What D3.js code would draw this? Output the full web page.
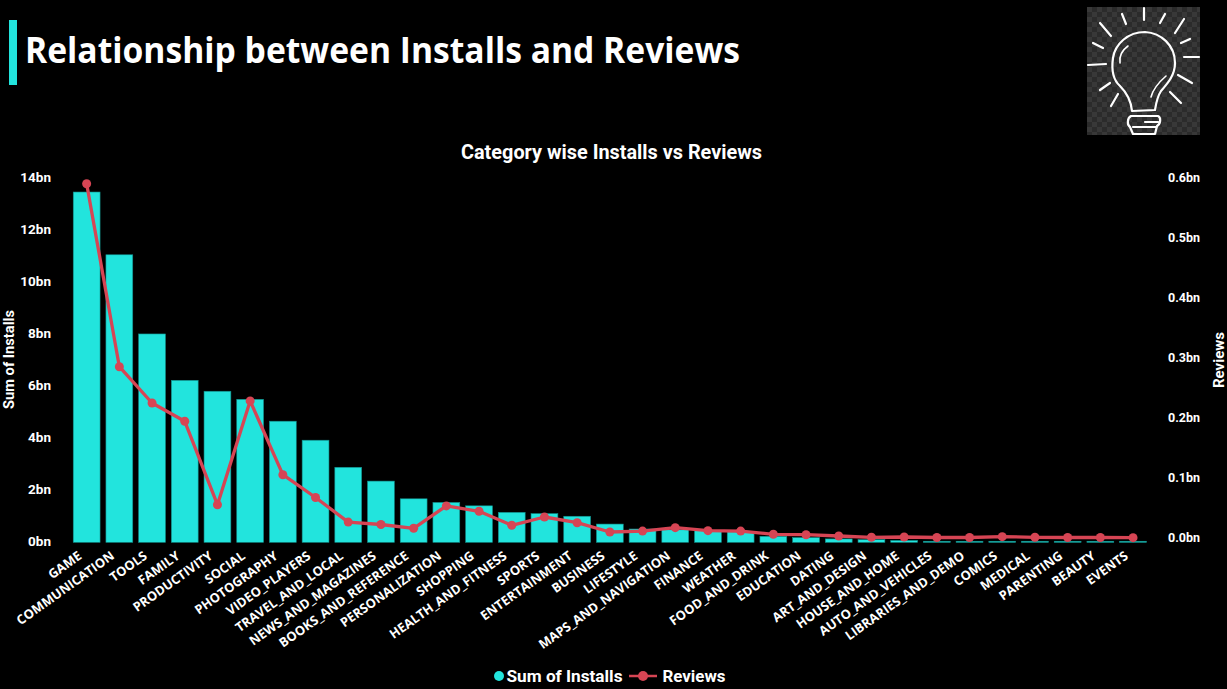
<!DOCTYPE html>
<html><head><meta charset="utf-8">
<script src="https://cdn.jsdelivr.net/npm/d3@7"></script>
<style>html,body{margin:0;background:#000;overflow:hidden}svg{display:block}text{fill:#fff}</style>
</head><body><svg id="c" width="1227" height="689"></svg>
<script>
const categories=["GAME","COMMUNICATION","TOOLS","FAMILY","PRODUCTIVITY","SOCIAL","PHOTOGRAPHY","VIDEO_PLAYERS","TRAVEL_AND_LOCAL","NEWS_AND_MAGAZINES","BOOKS_AND_REFERENCE","PERSONALIZATION","SHOPPING","HEALTH_AND_FITNESS","SPORTS","ENTERTAINMENT","BUSINESS","LIFESTYLE","MAPS_AND_NAVIGATION","FINANCE","WEATHER","FOOD_AND_DRINK","EDUCATION","DATING","ART_AND_DESIGN","HOUSE_AND_HOME","AUTO_AND_VEHICLES","LIBRARIES_AND_DEMO","COMICS","MEDICAL","PARENTING","BEAUTY","EVENTS"];
const installs=[13.45,11.04,8.0,6.22,5.8,5.49,4.65,3.92,2.88,2.35,1.67,1.53,1.40,1.15,1.10,1.0,0.70,0.51,0.48,0.45,0.40,0.23,0.18,0.13,0.10,0.07,0.04,0.04,0.04,0.04,0.04,0.04,0.04];
const reviews=[0.59,0.285,0.2245,0.194,0.055,0.228,0.105,0.067,0.026,0.022,0.0157,0.053,0.044,0.0207,0.0345,0.025,0.0095,0.011,0.0167,0.0117,0.011,0.0057,0.005,0.0028,0.0007,0.0012,0.0003,0.0003,0.0017,0.0007,0.0003,0.0003,0.0001];
const leftTicks=[0,2,4,6,8,10,12,14];
const rightTicks=[0,0.1,0.2,0.3,0.4,0.5,0.6];
const C_BAR="#22e4dd",C_LINE="#d64554";
const svg=d3.select("#c");
const x=d3.scaleBand().domain(categories).range([70.3,1149.4]).paddingInner(0.18).paddingOuter(0.09);
const yL=d3.scaleLinear().domain([0,14]).range([542.3,177.7]);
const yR=d3.scaleLinear().domain([0,0.6]).range([537.7,177.7]);
const seg="'Open Sans','Noto Sans',sans-serif";
const din="Roboto,'Noto Sans',sans-serif";

// header
svg.append("rect").attr("x",9).attr("y",20).attr("width",8).attr("height",65).attr("fill",C_BAR);
svg.append("text").attr("x",25).attr("y",62.7).attr("font-family",seg).attr("font-weight",700).attr("font-size",36).attr("textLength",715).attr("lengthAdjust","spacingAndGlyphs").text("Relationship between Installs and Reviews");
svg.append("text").attr("x",461).attr("y",159.3).attr("font-family",din).attr("font-weight",700).attr("font-size",20).attr("textLength",301).attr("lengthAdjust","spacingAndGlyphs").text("Category wise Installs vs Reviews");

// icon
const defs=svg.append("defs");
const pat=defs.append("pattern").attr("id","chk").attr("width",10).attr("height",10).attr("patternUnits","userSpaceOnUse").attr("x",1087).attr("y",7);
pat.append("rect").attr("width",10).attr("height",10).attr("fill","#2b2b2b");
pat.append("rect").attr("width",5).attr("height",5).attr("fill","#383838");
pat.append("rect").attr("x",5).attr("y",5).attr("width",5).attr("height",5).attr("fill","#383838");
const icon=svg.append("g");
icon.append("rect").attr("x",1087).attr("y",7).attr("width",113).attr("height",128).attr("fill","url(#chk)");
const ip=icon.append("g").attr("fill","none").attr("stroke","#fff").attr("stroke-linecap","round").attr("stroke-linejoin","round");
[[1144,8,1144,20],[1122,14,1126,24],[1100,23,1111,36],[1093,43,1103,48],[1088,65,1106,64],[1100,90,1110,83],[1111,106,1118,94],[1160,23,1165,14],[1175,33,1184,19],[1181,43,1190,39],[1184,57,1199,57],[1178,75,1192,83],[1170,92,1181,103]].forEach(l=>ip.append("line").attr("x1",l[0]).attr("y1",l[1]).attr("x2",l[2]).attr("y2",l[3]).attr("stroke-width",2.2));
ip.append("path").attr("stroke-width",2.2).attr("d","M1132,111 C1131,100 1126,92 1120,86 C1111,78 1112,65 1113,58 C1115,44 1128,32 1145,32 C1161,33 1175,45 1175,63 C1175,75 1168,83 1161,91 C1157,97 1156,104 1155,110 Z");
ip.append("path").attr("stroke-width",1.6).attr("d","M1120,63 C1119,56 1121,51 1128,46");
ip.append("path").attr("stroke-width",1.6).attr("d","M1151,97 C1153,89 1158,83 1166,76");
ip.append("path").attr("stroke-width",2.2).attr("d","M1131,116 C1127,118 1127,125 1130,127 L1133,134 L1155,134 L1157,126 C1161,124 1161,117 1158,116 Z M1145,122 L1158,122 M1133,127 L1157,127");

// bars
svg.append("g").selectAll("rect").data(categories).join("rect")
 .attr("x",d=>x(d)).attr("width",x.bandwidth())
 .attr("y",(d,i)=>yL(installs[i])).attr("height",(d,i)=>yL(0)-yL(installs[i]))
 .attr("fill",C_BAR).attr("stroke","#128f8b").attr("stroke-width",0.6);

// axes
const axL=d3.axisLeft(yL).tickValues(leftTicks).tickFormat(d=>d+"bn").tickSize(0).tickPadding(0);
const gL=svg.append("g").attr("transform","translate(51,-0.7)").call(axL);
gL.select(".domain").remove();
gL.selectAll("text").attr("font-family",din).attr("font-weight",700).attr("font-size",13.5);
const axR=d3.axisRight(yR).tickValues(rightTicks).tickFormat(d=>d.toFixed(1)+"bn").tickSize(0).tickPadding(0);
const gR=svg.append("g").attr("transform","translate(1168,0)").call(axR);
gR.select(".domain").remove();
gR.selectAll("text").attr("font-family",din).attr("font-weight",700).attr("font-size",12.5);

// category labels
const axB=d3.axisBottom(x).tickSize(0).tickPadding(0);
const gB=svg.append("g").attr("transform","translate(0,542.3)").call(axB);
gB.select(".domain").remove();
gB.selectAll("text").attr("font-family",seg).attr("font-weight",700).attr("font-size",12.85)
 .attr("text-anchor","end").attr("dy",null).attr("y",null)
 .attr("transform","translate(-4,15.5) rotate(-35.5)");

svg.append("text").attr("transform","translate(13.5,359.5) rotate(-90)").attr("text-anchor","middle").attr("font-family",din).attr("font-weight",700).attr("font-size",14.5).attr("textLength",99).attr("lengthAdjust","spacingAndGlyphs").text("Sum of Installs");
svg.append("text").attr("transform","translate(1224,360) rotate(-90)").attr("text-anchor","middle").attr("font-family",din).attr("font-weight",700).attr("font-size",15.5).attr("textLength",56).attr("lengthAdjust","spacingAndGlyphs").text("Reviews");

// line
const cx=d=>x(d)+x.bandwidth()/2;
const line=d3.line().x(d=>cx(d)).y((d,i)=>yR(reviews[i]));
svg.append("path").datum(categories).attr("d",line).attr("fill","none").attr("stroke",C_LINE).attr("stroke-width",3.3).attr("stroke-linejoin","round");
svg.append("g").selectAll("circle").data(categories).join("circle").attr("cx",cx).attr("cy",(d,i)=>yR(reviews[i])).attr("r",4.5).attr("fill",C_LINE);

// legend
svg.append("circle").attr("cx",499).attr("cy",676).attr("r",5).attr("fill",C_BAR);
svg.append("text").attr("x",506.5).attr("y",681.5).attr("font-family",din).attr("font-weight",700).attr("font-size",16).attr("textLength",116).attr("lengthAdjust","spacingAndGlyphs").text("Sum of Installs");
svg.append("line").attr("x1",629).attr("x2",657).attr("y1",676).attr("y2",676).attr("stroke",C_LINE).attr("stroke-width",2.5);
svg.append("circle").attr("cx",643).attr("cy",676).attr("r",5).attr("fill",C_LINE);
svg.append("text").attr("x",662.5).attr("y",681.5).attr("font-family",din).attr("font-weight",700).attr("font-size",16).attr("textLength",63).attr("lengthAdjust","spacingAndGlyphs").text("Reviews");
</script></body></html>
